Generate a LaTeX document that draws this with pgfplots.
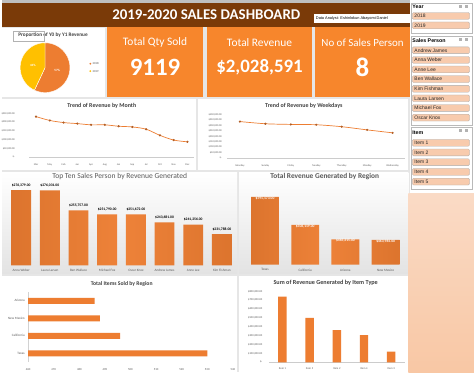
\documentclass[border=0pt]{standalone}
\usepackage{fontspec}
\setmainfont{Carlito}
\newfontfamily\slfont{Liberation Sans}
\usepackage{pgfplots}
\pgfplotsset{compat=1.18}
\definecolor{brownbar}{HTML}{7A3A08}
\definecolor{kpi}{HTML}{F7862C}
\definecolor{xlor}{HTML}{ED7D31}
\definecolor{xlyl}{HTML}{FFC000}
\definecolor{peach}{HTML}{F8CBAD}
\definecolor{bgc}{HTML}{E6E6E6}
\definecolor{ttl}{HTML}{404040}
\definecolor{tickc}{HTML}{595959}
\newcommand\fs[1]{\fontsize{#1}{#1}\selectfont}
\def\pieA{57}
\pgfplotsset{
  dashax/.style={scale only axis, anchor=south west,
    scaled ticks=false,
    /pgf/number format/assume math mode=true,
    tick label style={font=\fs{3}, text=tickc},
    major tick length=0pt},
  barshade/.style={draw=none, left color=xlor!93!black, right color=xlor!93!black, middle color=xlor!96!white},
  money/.style={nodes near coords={\$\pgfmathprintnumber[fixed,fixed zerofill,precision=2,1000 sep={,}]{\pgfplotspointmeta}}},
}
\begin{document}
\pgfmathsetmacro\angA{90-3.6*\pieA}
\begin{tikzpicture}[x=1pt,y=1pt]
\path[use as bounding box] (0,0) rectangle (474,374);
\fill[bgc] (0,0) rectangle (474,374);
% shaded backgrounds (normal coordinates)
\shade[top color=white, bottom color=gray!22] (0,99) rectangle (236,201);
\shade[top color=white, bottom color=gray!22] (238,99) rectangle (408,201);
\shade[top color=peach!70, bottom color=peach!95!orange] (408,0) rectangle (474,180);
\begin{scope}[yshift=374pt, y=-1pt]
  \fill[gray!50] (0,0) rectangle (410,3);
  \fill[brownbar] (0,3) rectangle (410,27);
  \node[text=white, font=\bfseries\fs{15}] at (205,14.5) {2019-2020 SALES DASHBOARD};
  \fill[white] (313,14) rectangle (410,23);
  \node[anchor=west, font=\slfont\fs{3.9}, inner sep=0pt] at (315,18.5) {Data Analyst: Eshinlokun Abayomi Daniel};
  % pie panel
  \fill[white] (0,28) rectangle (103,97);
  \node[font=\bfseries\fs{5.3}, text=ttl] at (51,35.5) {Proportion of Y0 by Y1 Revenue};
  \draw[gray!60, line width=0.3pt] (11,31.5) rectangle (42,41.5);
  \fill[xlor] (88.5,64) circle (1pt);
  \node[anchor=west, font=\fs{3}, text=tickc, inner sep=0pt] at (90.5,64) {2018};
  \fill[xlyl] (88.5,71.5) circle (1pt);
  \node[anchor=west, font=\fs{3}, text=tickc, inner sep=0pt] at (90.5,71.5) {2019};
  % KPI boxes
  \fill[kpi] (105,27) rectangle (202,97);
  \fill[kpi] (206,27) rectangle (311,97);
  \fill[kpi] (314,27) rectangle (410,97);
  \node[text=white, font=\fs{11.5}] at (153.5,43) {Total Qty Sold};
  \node[text=white, font=\bfseries\fs{25}] at (153.5,68) {9119};
  \node[text=white, font=\fs{11.5}] at (258.5,43) {Total Revenue};
  \node[text=white, font=\bfseries\fs{19}] at (258.5,68) {\$2,028,591};
  \node[text=white, font=\fs{11}] at (362,43) {No of Sales Person};
  \node[text=white, font=\bfseries\fs{27}] at (362,68) {8};
  % row 2 panels
  \fill[white] (0,99) rectangle (195,171);
  \fill[white] (197,99) rectangle (408,171);
  \node[font=\bfseries\fs{6}, text=ttl] at (100,106) {Trend of Revenue by Month};
  \node[font=\bfseries\fs{6}, text=ttl] at (303,106) {Trend of Revenue by Weekdays};
  % row 3 titles
  \node[font=\fs{7.6}, text=tickc] at (118,177.5) {Top Ten Sales Person by Revenue Generated};
  \node[font=\bfseries\fs{7.4}, text=tickc] at (324,177.5) {Total Revenue Generated by Region};
  % row 4 panels
  \fill[white] (0,277) rectangle (236,374);
  \fill[white] (238,277) rectangle (408,374);
  \node[font=\bfseries\fs{5.7}, text=ttl] at (120,285) {Total Items Sold by Region};
  \node[font=\bfseries\fs{6.2}, text=ttl] at (325,284.5) {Sum of Revenue Generated by Item Type};
  % slicers
  \fill[white] (410,0) rectangle (474,194);
  \foreach \a/\b in {3/33,36/126,128/190}{
    \draw[gray!55, line width=0.3pt] (410.5,\a) rectangle (472,\b);
    \fill[gray!60] (459,\a+2) rectangle (462,\a+5);
    \fill[gray!60] (465,\a+2) rectangle (468,\a+5);
  }
  \node[anchor=west, font=\slfont\bfseries\fs{5.3}, inner sep=0pt] at (412,6.5) {Year};
  \node[anchor=west, font=\slfont\bfseries\fs{5.3}, inner sep=0pt] at (412,40.8) {Sales Person};
  \node[anchor=west, font=\slfont\bfseries\fs{5.3}, inner sep=0pt] at (412,133) {Item};
  \foreach \y/\t in {16/2018,25.5/2019,
      50.5/Andrew James,60.2/Anna Weber,69.8/Anne Lee,79.5/Ben Wallace,89.2/Kim Fishman,98.8/Laura Larsen,108.5/Michael Fox,118.2/Oscar Knox,
      143.5/Item 1,153.2/Item 2,163/Item 3,172.7/Item 4,182.5/Item 5}{
    \draw[rounded corners=1.2pt, fill=peach, draw=gray!65, line width=0.3pt] (412,\y-3.4) rectangle (469.5,\y+3.4);
    \node[anchor=west, font=\slfont\fs{5}, inner sep=0pt, text=black!85] at (414,\y) {\t};
  }
\end{scope}

% ---------- Pie ----------
\begin{axis}[hide axis, scale only axis, width=50pt, height=50pt,
  xmin=-1, xmax=1, ymin=-1, ymax=1, at={(43pt,306pt)}, anchor=center]
\addplot[fill=xlor, draw=white, line width=0.4pt, data cs=polar, domain=90:\angA, samples=60] ({x},{1}) -- (axis cs:0,0) -- cycle;
\addplot[fill=xlyl, draw=white, line width=0.4pt, data cs=polar, domain=\angA:-270, samples=60] ({x},{1}) -- (axis cs:0,0) -- cycle;
\node[font=\bfseries\fs{3.2}, text=white] at (axis cs:0.49,-0.11) {57\%};
\node[font=\bfseries\fs{3.2}, text=white] at (axis cs:-0.49,0.11) {43\%};
\end{axis}

% ---------- Trend by month ----------
\begin{axis}[dashax, at={(27pt,216pt)}, width=166pt, height=44pt,
  xmin=-0.5, xmax=11.5, ymin=0, ymax=250000,
  axis x line*=bottom, axis y line*=left,
  x axis line style={draw=gray!40}, y axis line style={draw=none},
  xtick={0,1,2,3,4,5,6,7,8,9,10,11},
  xticklabels={Mar,May,Feb,Jun,Apr,Aug,Jan,Sep,Jul,Oct,Nov,Dec},
  ytick={0,50000,100000,150000,200000,250000},
  yticklabels={{\$-},{\$50,000.00},{\$100,000.00},{\$150,000.00},{\$200,000.00},{\$250,000.00}},
  tick label style={font=\fs{2.6}},
  xticklabel style={yshift=-3pt}, yticklabel style={xshift=-11pt}]
\addplot[xlor, line width=0.7pt, smooth, mark=*, mark size=0.7pt,
  mark options={fill=xlor!75!black, draw=xlor!75!black}] coordinates {
  (0,232000) (1,210000) (2,198000) (3,192000) (4,185000) (5,185000)
  (6,177000) (7,173000) (8,160000) (9,125000) (10,98000) (11,88000)};
\end{axis}

% ---------- Trend by weekdays ----------
\begin{axis}[dashax, at={(226pt,215pt)}, width=179pt, height=44pt,
  xmin=-0.5, xmax=6.5, ymin=0, ymax=400000,
  axis x line*=bottom, axis y line*=left,
  x axis line style={draw=gray!40}, y axis line style={draw=none},
  xtick={0,1,2,3,4,5,6},
  xticklabels={Saturday,Sunday,Friday,Tuesday,Thursday,Monday,Wednesday},
  ytick={0,50000,100000,150000,200000,250000,300000,350000,400000},
  yticklabels={{\$-},{\$50,000.00},{\$100,000.00},{\$150,000.00},{\$200,000.00},{\$250,000.00},{\$300,000.00},{\$350,000.00},{\$400,000.00}},
  tick label style={font=\fs{2.6}},
  xticklabel style={yshift=-3pt}, yticklabel style={xshift=-2pt}]
\addplot[xlor, line width=0.7pt, smooth, mark=*, mark size=0.7pt,
  mark options={fill=xlor!75!black, draw=xlor!75!black}] coordinates {
  (0,335000) (1,315000) (2,309000) (3,306000) (4,288000) (5,259000) (6,232000)};
\end{axis}

% ---------- Top ten sales person ----------
\begin{axis}[dashax, at={(4.6pt,107.3pt)}, width=230.5pt, height=89.2pt,
  xmin=-0.5, xmax=7.5, ymin=200000, ymax=290000,
  axis line style={draw=none}, ytick=\empty,
  xtick={0,1,2,3,4,5,6,7},
  xticklabels={Anna Weber,Laura Larsen,Ben Wallace,Michael Fox,Oscar Knox,Andrew James,Anne Lee,Kim Fishman},
  xticklabel style={font=\fs{3.4}, yshift=-0.5pt},
  ybar, bar width=20pt, money,
  every node near coord/.append style={font=\bfseries\fs{3.7}, text=black}]
\addplot[barshade] coordinates {
  (0,276379) (1,276031) (2,255757) (3,251790) (4,251672) (5,243681) (6,241256) (7,231788)};
\end{axis}

% ---------- Revenue by region ----------
\begin{axis}[dashax, at={(243.8pt,108pt)}, width=161.6pt, height=81.4pt,
  xmin=-0.5, xmax=3.5, ymin=390000, ymax=630000,
  axis line style={draw=none}, ytick=\empty,
  xtick={0,1,2,3}, xticklabels={Texas,California,Arizona,New Mexico},
  xticklabel style={font=\fs{3.4}, yshift=-0.5pt},
  ybar, bar width=28pt, money,
  every node near coord/.append style={font=\bfseries\fs{3.7}, text=white, yshift=-6.5pt}]
\addplot[barshade] coordinates {(0,591173) (1,508119) (2,465315) (3,463984)};
\end{axis}

% ---------- Items sold by region ----------
\begin{axis}[dashax, at={(26pt,10.2pt)}, width=205.7pt, height=70.3pt,
  xbar, bar width=6pt,
  xmin=460, xmax=540, ymin=-0.5, ymax=3.5,
  xtick={460,470,480,490,500,510,520,530,540},
  ytick={0,1,2,3}, yticklabels={Texas,California,New Mexico,Arizona},
  axis x line*=bottom, axis y line*=left,
  x axis line style={draw=none}, y axis line style={draw=gray!35},
  yticklabel style={font=\fs{3.3}},
  xticklabel style={yshift=-3pt}]
\addplot[fill=xlor, draw=none] coordinates {(530,0) (496,1) (488,2) (486,3)};
\end{axis}

% ---------- Revenue by item type ----------
\begin{axis}[dashax, at={(267.8pt,10pt)}, width=136.7pt, height=71.3pt,
  ybar, bar width=8.5pt,
  xmin=-0.5, xmax=4.5, ymin=0, ymax=800000,
  axis x line*=bottom, axis y line*=left,
  x axis line style={draw=gray!40}, y axis line style={draw=none},
  xtick={0,1,2,3,4}, xticklabels={Item 1,Item 5,Item 2,Item 4,Item 3},
  ytick={0,100000,200000,300000,400000,500000,600000,700000,800000},
  yticklabels={{\$-},{\$100,000.00},{\$200,000.00},{\$300,000.00},{\$400,000.00},{\$500,000.00},{\$600,000.00},{\$700,000.00},{\$800,000.00}},
  tick label style={font=\fs{2.8}},
  yticklabel style={xshift=-3pt}, xticklabel style={yshift=-1.5pt}]
\addplot[fill=xlor, draw=none] coordinates {(0,740000) (1,500000) (2,362000) (3,305000) (4,121000)};
\end{axis}
\end{tikzpicture}
\end{document}
